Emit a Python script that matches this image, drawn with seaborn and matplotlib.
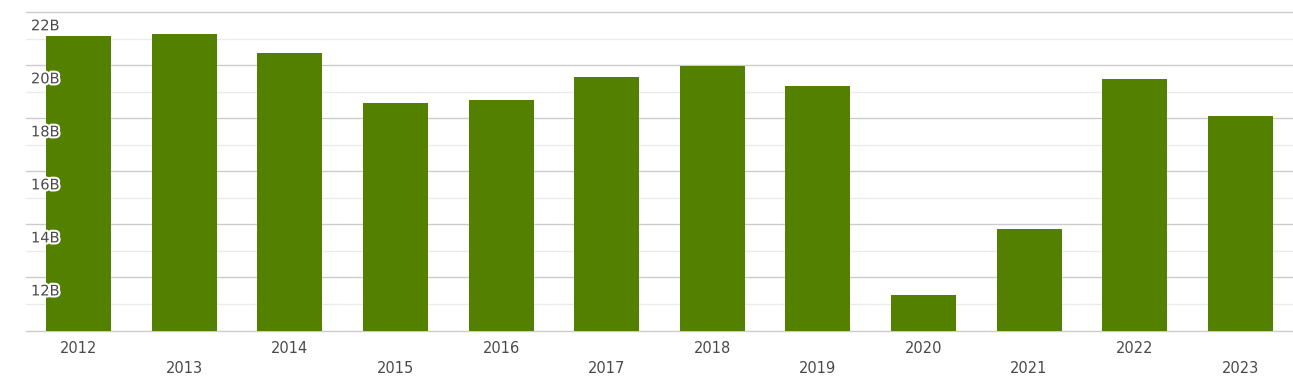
import matplotlib
matplotlib.use("Agg")
import matplotlib.pyplot as plt
import matplotlib.patheffects as pe
import matplotlib.transforms as mtransforms
import seaborn as sns
import pandas as pd

years = ["2012", "2013", "2014", "2015", "2016", "2017",
         "2018", "2019", "2020", "2021", "2022", "2023"]
values_b = [21.10, 21.20, 20.45, 18.57, 18.68, 19.55,
            19.96, 19.21, 11.33, 13.82, 19.47, 18.08]
ytick_vals = [12, 14, 16, 18, 20, 22]
ytick_labels = ["12B", "14B", "16B", "18B", "20B", "22B"]

df = pd.DataFrame({"year": years, "value": values_b})

sns.set_theme(style="white")
plt.rcParams["font.family"] = ["DejaVu Sans"]

fig = plt.figure(figsize=(12.93, 3.84), dpi=100)
ax = fig.add_axes([26 / 1293, 1 - 330.5 / 384, 1 - 26 / 1293, (330.5 - 12.3) / 384])

sns.barplot(data=df, x="year", y="value", color="#548000", saturation=1,
            width=0.615, ax=ax, zorder=3, linewidth=0, edgecolor="none")

ax.set_ylim(10, 22)
ax.set_xlim(-0.5, len(years) - 0.5)

# gridlines
for v in range(11, 22, 2):
    ax.axhline(v, color="#ebebeb", lw=1, zorder=1, clip_on=False)
for v in range(10, 23, 2):
    ax.axhline(v, color="#cccccc", lw=1, zorder=1, clip_on=False)

for s in ax.spines.values():
    s.set_visible(False)

ax.set_yticks([])
ax.set_xlabel("")
ax.set_ylabel("")

# x tick labels staggered
ax.set_xticks(range(len(years)))
ax.set_xticklabels([])
ax.tick_params(axis="x", length=0)
trans = mtransforms.blended_transform_factory(ax.transData, ax.transAxes)
for i, y in enumerate(years):
    off = -18 if i % 2 == 0 else -38
    ax.annotate(y, xy=(i, 0), xycoords=trans, xytext=(0, off),
                textcoords="offset pixels", ha="center", va="center",
                fontsize=10.5, color="#4a4a4a")

# y labels inside plot with white halo
ytrans = mtransforms.blended_transform_factory(ax.transAxes, ax.transData)
for v, lab in zip(ytick_vals, ytick_labels):
    ax.annotate(lab, xy=(0, v), xycoords=ytrans, xytext=(5, -13.5),
                textcoords="offset pixels", ha="left", va="center",
                fontsize=10.5, color="#4a4a4a", zorder=5,
                path_effects=[pe.withStroke(linewidth=3, foreground="white")])

fig.savefig("out.png", dpi=100, facecolor="white")
